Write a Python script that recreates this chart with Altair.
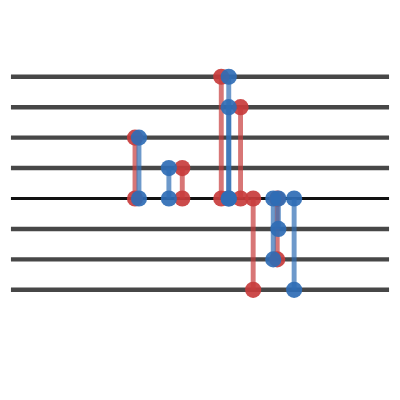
import altair as alt
import pandas as pd

# Data
levels = [-3, -2, -1, 1, 2, 3, 4]
red_x = [33.5, 45.5, 55.4, 60.3, 63.5, 69.6]
red_val = [2, 1, 4, 3, -3, -2]
blue_x = [34.5, 42.1, 57.3, 57.3, 68.6, 69.9, 73.9]
blue_val = [2, 1, 4, 3, -2, -1, -3]

rows = []
for x, v in zip(red_x, red_val):
    rows.append({"series": "red", "x": x, "value": v, "zero": 0})
for x, v in zip(blue_x, blue_val):
    rows.append({"series": "blue", "x": x, "value": v, "zero": 0})
stems = pd.DataFrame(rows)

pts = []
for r in rows:
    pts.append({"series": r["series"], "x": r["x"], "y": 0})
    pts.append({"series": r["series"], "x": r["x"], "y": r["value"]})
points = pd.DataFrame(pts)

xs = alt.Scale(domain=[2, 98], nice=False, zero=False)
ys = alt.Scale(domain=[-6.0, 6.165], nice=False, zero=False)
cs = alt.Scale(domain=["red", "blue"], range=["#c83c3c", "#2f6db5"])

grid = alt.Chart(pd.DataFrame({"lvl": levels})).mark_rule(
    color="#474747", strokeWidth=4.5
).encode(y=alt.Y("lvl:Q", scale=ys, axis=None))

base = alt.Chart(pd.DataFrame({"lvl": [0]})).mark_rule(
    color="#111111", strokeWidth=3
).encode(y=alt.Y("lvl:Q", scale=ys, axis=None))

rules = alt.Chart(stems).mark_rule(strokeWidth=5, opacity=0.7).encode(
    x=alt.X("x:Q", scale=xs, axis=None),
    y=alt.Y("zero:Q", scale=ys, axis=None),
    y2="value:Q",
    color=alt.Color("series:N", scale=cs, legend=None),
)

dots = alt.Chart(points).mark_circle(size=270, opacity=0.92).encode(
    x=alt.X("x:Q", scale=xs, axis=None),
    y=alt.Y("y:Q", scale=ys, axis=None),
    color=alt.Color("series:N", scale=cs, legend=None),
)

chart = alt.layer(grid, base, rules, dots).properties(
    width=384, height=376, padding=0
).configure_view(stroke=None)

chart.save("out.html", embed_options={"renderer": "svg", "actions": False})
